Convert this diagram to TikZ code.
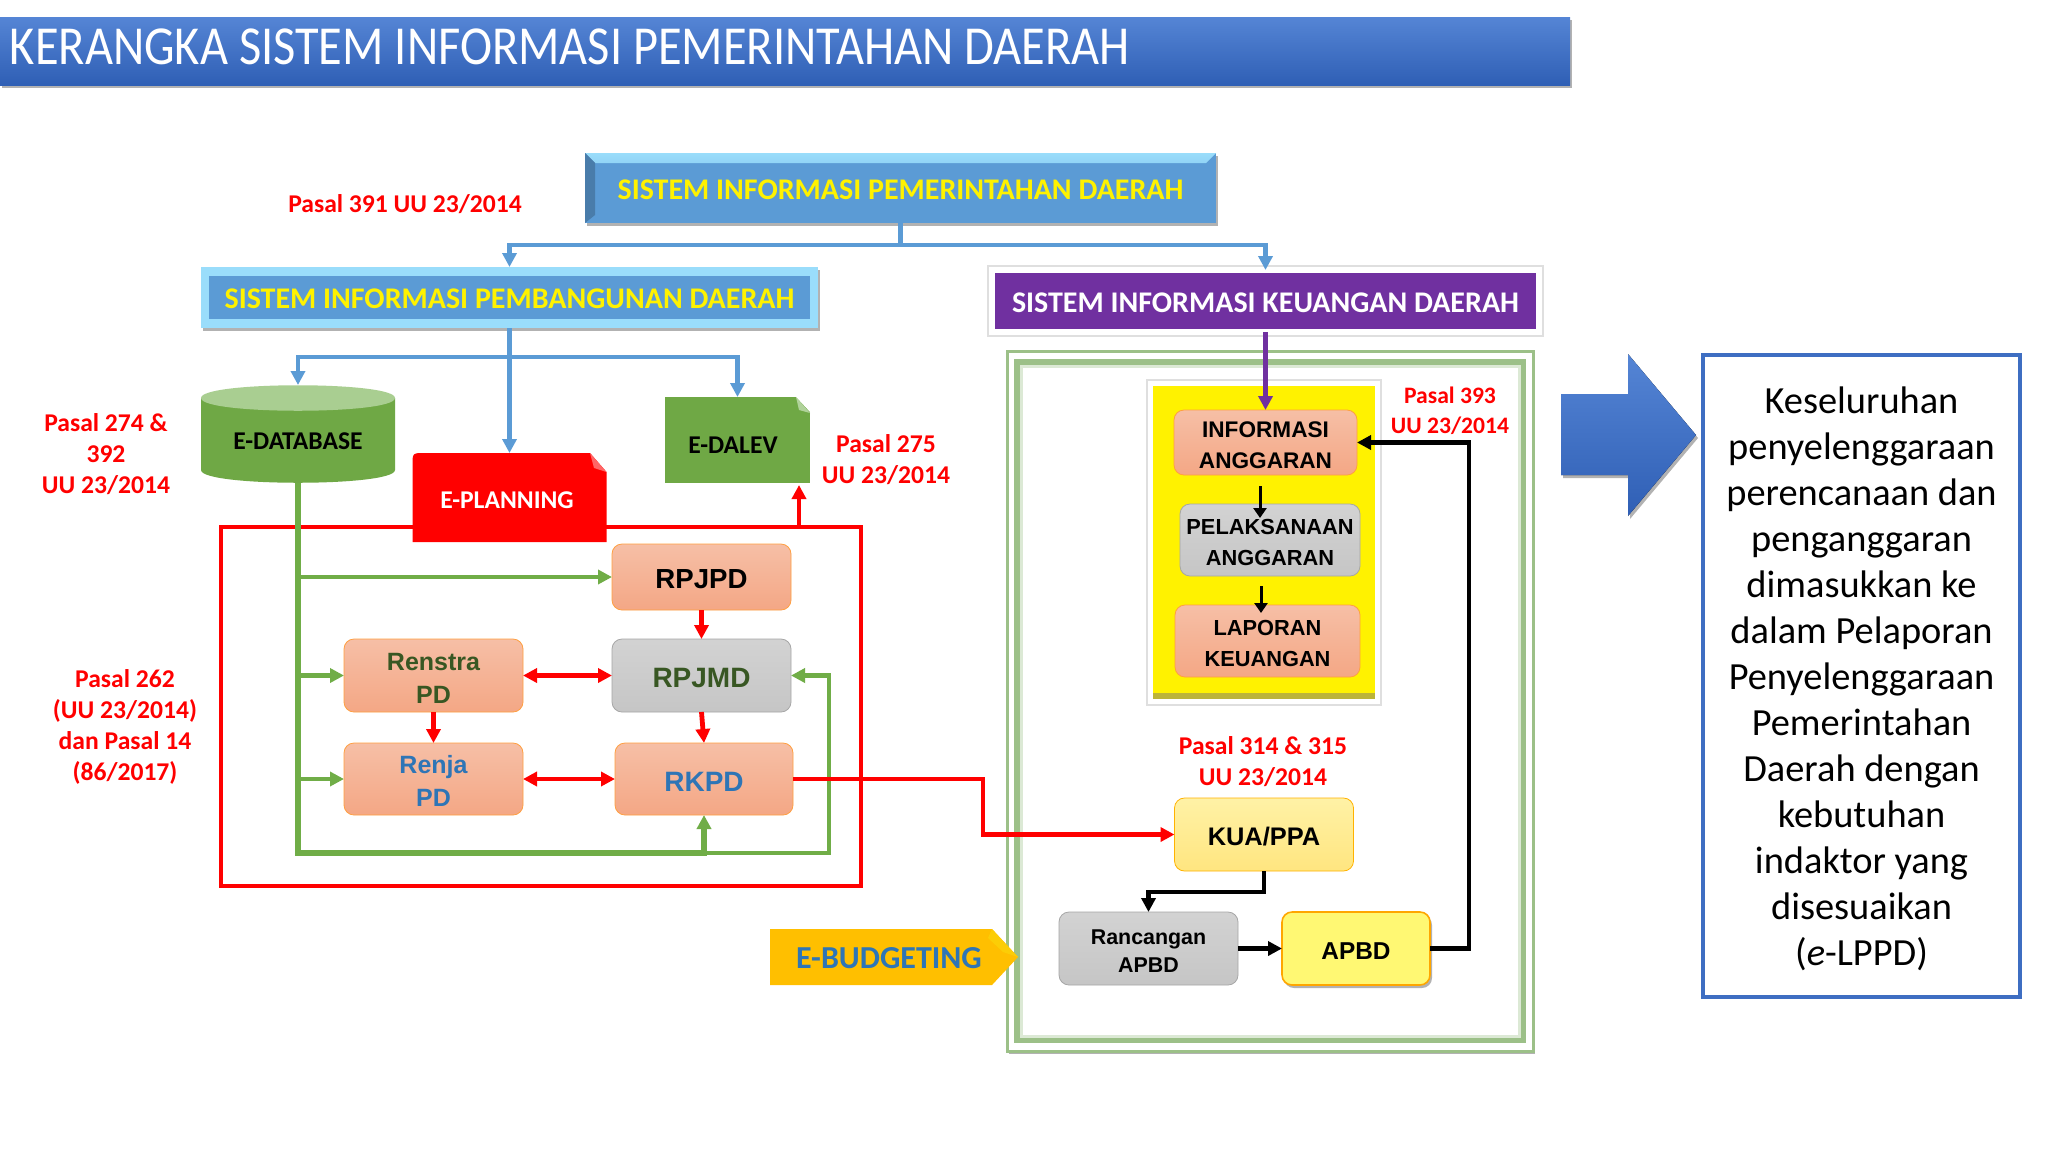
\documentclass[tikz,border=0pt]{standalone}
\usepackage{fontspec}
\setmainfont{Carlito}
\newfontfamily\arialf{Liberation Sans}
\usetikzlibrary{arrows.meta,shadows}
\definecolor{redlab}{HTML}{FF0000}
\definecolor{bluebox}{HTML}{5B9BD5}
\definecolor{bluelite}{HTML}{9ADDFB}
\definecolor{greenline}{HTML}{70AD47}
\definecolor{greendoc}{HTML}{6FA845}
\definecolor{purplebox}{HTML}{7030A0}
\definecolor{darkgreen}{HTML}{385723}
\definecolor{bluetext}{HTML}{2E75B6}
\definecolor{framegreen}{HTML}{9CC088}
\definecolor{royaltop}{HTML}{5585D5}
\definecolor{royalbot}{HTML}{2F5FB5}
\definecolor{salmontop}{HTML}{F6BFA6}
\definecolor{salmonbot}{HTML}{F4A785}
\newcommand{\lift}{\rule{0pt}{\dimexpr\fontcharht\font`d+2.6pt\relax}}
\tikzset{
every node/.style={inner sep=0pt,outer sep=0pt,align=center},
lowtext/.style={execute at begin node={\rule{0pt}{\dimexpr\fontcharht\font`d+#1\relax}}},
lowtext/.default=2.4pt,
softshadow/.style={drop shadow={shadow xshift=1pt,shadow yshift=-1.5pt,fill=black,opacity=0.3}},
lawlabel/.style={text=redlab,font=\fontsize{12.8}{15.5}\selectfont\bfseries},
orangebox/.style={draw=orange!75!white,rounded corners=5pt,top color=salmontop,bottom color=salmonbot},
greybox/.style={draw=gray!70,rounded corners=5pt,top color=gray!35,bottom color=gray!45},
bluearrow/.style={draw=bluebox,line width=2.3pt,-{Triangle[length=7pt,width=7pt]}},
greenarrow/.style={draw=greenline,line width=2.4pt,-{Triangle[length=7pt,width=7pt]}},
redarrow/.style={draw=red,line width=2.4pt,-{Triangle[length=7pt,width=7pt]}},
twoarrow/.style={draw=red,line width=2.4pt,{Triangle[length=7pt,width=7pt]}-{Triangle[length=7pt,width=7pt]}},
blackarrow/.style={draw=black,line width=2.4pt,-{Triangle[length=7pt,width=7pt]}},
thinarrow/.style={draw=black,line width=1.5pt,-{Triangle[length=5pt,width=6.5pt]}},
}
\begin{document}
\begin{tikzpicture}[x=0.5pt,y=-0.5pt]
\useasboundingbox (0,0) rectangle (2048,1152);
\fill[white] (0,0) rectangle (2048,1152);
%%% Title bar
\draw (785,51) node[minimum width=785pt,minimum height=34pt,top color=royaltop,bottom color=royalbot,softshadow](titlebar){};
\draw (10,47) node[anchor=west,text=white,font=\fontsize{27.5}{30}\selectfont](titletext){\scalebox{0.88}[1]{KERANGKA SISTEM INFORMASI PEMERINTAHAN DAERAH}};
%%% Upper boxes
\draw
(900.5,188) node[lowtext=1pt,minimum width=315.5pt,minimum height=35pt,fill=bluebox,softshadow,text=yellow,font=\fontsize{15}{16}\selectfont\bfseries,
path picture={
\fill[top color=bluelite,bottom color=bluebox] (path picture bounding box.north west)--(path picture bounding box.north east)--++(-5pt,-5pt)--([shift={(5pt,-5pt)}]path picture bounding box.north west)--cycle;
\fill[black!20!bluebox] (path picture bounding box.north west)--++(5pt,-5pt)--([shift={(5pt,4pt)}]path picture bounding box.south west)--(path picture bounding box.south west)--cycle;
}](mainbox){SISTEM INFORMASI PEMERINTAHAN DAERAH}
(509.5,297.5) node[lowtext=1pt,minimum width=308.5pt,minimum height=30.5pt,fill=bluelite,softshadow,text=yellow,font=\fontsize{15}{16}\selectfont\bfseries,
path picture={
\fill[bluebox] ([shift={(4pt,-4.5pt)}]path picture bounding box.north west) rectangle ([shift={(-4pt,4.5pt)}]path picture bounding box.south east);
}](pdbox){SISTEM INFORMASI PEMBANGUNAN DAERAH}
(1265.5,301) node[lowtext=1.2pt,minimum width=273.5pt,minimum height=31pt,fill=purplebox,preaction={draw=gray!25,line width=5pt},draw=white,line width=3pt,text=white,font=\fontsize{15}{16}\selectfont\bfseries](keubox){SISTEM INFORMASI KEUANGAN DAERAH}
;
%%% Red frame and the three documents
\draw (541,706.5) node[draw=red,line width=2.4pt,minimum width=320pt,minimum height=179.5pt](redframe){};
\fill[greendoc] (201,398)--(201,470) .. controls (201,487) and (395,487) .. (395,470)--(395,398)--cycle;
\fill[greenline!60!white] (201,398) .. controls (201,381) and (395,381) .. (395,398) .. controls (395,415) and (201,415) .. (201,398)--cycle;
\draw (298,434) node[minimum width=97pt,minimum height=49pt](dbase){};
\draw (298,441) node[font=\fontsize{12.8}{14}\selectfont\bfseries](dbasetext){E-DATABASE};
\draw (737.5,440) node[minimum width=72.5pt,minimum height=43pt,fill=greendoc](dalev){};
\draw (733,445) node[font=\fontsize{12.8}{14}\selectfont\bfseries](dalevtext){E-DALEV};
\fill[white] (796,397)--(811,397)--(811,413)--cycle;
\fill[greenline!55!white] (796,397)--(810,413)--(799,410)--cycle;
\fill[red] (412.5,542)--(412.5,465) .. controls (412.5,453) .. (424.5,453)--(590,453)--(606.5,472)--(606.5,542)--cycle;
\fill[red!60!white] (590,453)--(606.5,472)--(594,468)--cycle;
\draw (509.5,497.5) node[minimum width=97pt,minimum height=44.5pt](eplan){};
\draw (507,500) node[text=white,font=\fontsize{12.8}{14}\selectfont\bfseries](eplantext){E-PLANNING};
%%% Planning boxes
\draw
(701.5,577) node[orangebox,lowtext,minimum width=89.5pt,minimum height=33pt,font=\fontsize{13.8}{16}\selectfont\arialf\bfseries](rpjpd){RPJPD}
(701.5,675.5) node[greybox,lowtext,minimum width=89.5pt,minimum height=36.5pt,text=darkgreen,font=\fontsize{14}{16}\selectfont\arialf\bfseries](rpjmd){RPJMD}
(433.5,675.5) node[orangebox,minimum width=89.5pt,minimum height=36.5pt,text=darkgreen,font=\fontsize{12.5}{16.5}\selectfont\arialf\bfseries](renstra){\lift Renstra\\PD}
(433.5,779) node[orangebox,minimum width=89.5pt,minimum height=36pt,text=bluetext,font=\fontsize{12.5}{16.5}\selectfont\arialf\bfseries](renja){\lift Renja\\PD}
(704,779) node[orangebox,lowtext,minimum width=89pt,minimum height=36pt,text=bluetext,font=\fontsize{14}{16}\selectfont\arialf\bfseries](rkpd){RKPD}
;
%%% Finance frame
\draw (1270,701) node[draw=framegreen,line width=1.5pt,fill=white,minimum width=263pt,minimum height=350pt,softshadow](frameout){};
\draw (1270,701) node[draw=framegreen,line width=3pt,fill=white,minimum width=253pt,minimum height=339pt](framein){};
\draw (1270,701) node[draw=framegreen!35,line width=1.5pt,minimum width=249pt,minimum height=335pt](frameglow){};
\draw (1264,542.5) node[fill=yellow,preaction={draw=gray!25,line width=4.5pt},draw=white,line width=2.5pt,minimum width=113.5pt,minimum height=159pt,
path picture={
\fill[yellow!70!black] ([yshift=4.5pt]path picture bounding box.south west) rectangle (path picture bounding box.south east);
}](yellowbox){};
\draw
(1265.5,442.5) node[orangebox,minimum width=91.5pt,minimum height=32.5pt,font=\fontsize{11.3}{15.5}\selectfont\arialf\bfseries](info){\lift INFORMASI\\ANGGARAN}
(1270,540) node[greybox,minimum width=90pt,minimum height=36pt,font=\fontsize{10.9}{15.5}\selectfont\arialf\bfseries](pelak){\lift PELAKSANAAN\\ANGGARAN}
(1267.5,641) node[orangebox,minimum width=92.5pt,minimum height=36pt,font=\fontsize{10.9}{15.5}\selectfont\arialf\bfseries](lapor){\lift LAPORAN\\KEUANGAN}
(1264,834.5) node[lowtext,draw=orange!60!yellow,rounded corners=5pt,top color=orange!30!yellow!35!white,bottom color=orange!40!yellow!50!white,minimum width=89.5pt,minimum height=36.5pt,font=\fontsize{12.7}{16}\selectfont\arialf\bfseries](kua){KUA/PPA}
(1148.5,948.5) node[greybox,minimum width=89.5pt,minimum height=36.5pt,font=\fontsize{10.7}{14}\selectfont\arialf\bfseries](ranc){\lift Rancangan\\APBD}
(1356,948.5) node[lowtext,draw=orange!70!yellow,line width=0.8pt,rounded corners=5pt,fill=yellow!55!white,softshadow,minimum width=74pt,minimum height=36.5pt,font=\fontsize{12.2}{16}\selectfont\arialf\bfseries](apbd){APBD}
;
\fill[orange!50!yellow] (770,929)--(992,929)--(1018,957)--(992,985)--(770,985)--cycle;
\fill[yellow!65!orange] (992,929)--(1018,957)--(1003,952)--(988,938)--cycle;
\draw (889,958) node[text=bluetext,font=\fontsize{16}{18}\selectfont\bfseries](ebud){E-BUDGETING};
%%% Bends of the connectors
\coordinate (topbus) at (900.5,245);
\coordinate (pdbus) at (509.5,357);
\coordinate (gcorner) at (298,853);
\coordinate (gbase) at (704,853);
\coordinate (gright) at (829,853);
\coordinate (redbend) at (983,779);
\coordinate (dalevin) at (799,485);
\coordinate (kbend) at (1264,892);
\coordinate (bback) at (1469,948.5);
%%% Blue arrows
\draw[bluearrow] (mainbox.south)--(topbus)-|(pdbox.north);
\draw[bluearrow] (topbus)-|(keubox.north);
\draw[bluearrow] (pdbox.south)--(eplan.north);
\draw[bluearrow] (pdbus)-|(dbase.north);
\draw[bluearrow] (pdbus)-|(dalev.north);
%%% Green arrows
\draw[greenarrow,line width=2.8pt] (dbase.south)--(gcorner)--(gbase)--(rkpd.south);
\draw[greenarrow,line width=2.2pt] (gbase)--(gright)|-(rpjmd.east);
\foreach \x in {rpjpd,renstra,renja}{
\draw[greenarrow] (\x.west-|dbase.south)--(\x.west);
}
%%% Red arrows
\foreach \x/\y in {rpjpd/rpjmd,rpjmd/rkpd,renstra/renja}{
\draw[redarrow] (\x.south)--(\y.north);
}
\foreach \x/\y in {renstra/rpjmd,renja/rkpd}{
\draw[twoarrow] (\x.east)--(\y.west);
}
\draw[redarrow] (redframe.north-|dalevin)--(dalevin);
\draw[redarrow] (rkpd.east)--(redbend)|-(kua.west);
%%% Black arrows
\draw[blackarrow,draw=purplebox] (keubox.south)--(info.north);
\draw[thinarrow] ([shift={(-2.75pt,-5.5pt)}]info.south)--([shift={(-5pt,-7pt)}]pelak.north);
\draw[thinarrow] ([shift={(-4.5pt,-5pt)}]pelak.south)--([shift={(-3.25pt,-4pt)}]lapor.north);
\draw[blackarrow] (kua.south)--(kbend)-|(ranc.north);
\draw[blackarrow] (ranc.east)--(apbd.west);
\draw[blackarrow] (apbd.east)--(bback)|-(info.east);
%%% Law labels
\draw
(405,204) node[lawlabel](lawa){Pasal 391 UU 23/2014}
(106,454.5) node[lawlabel](lawb){Pasal 274 \&\\392\\UU 23/2014}
(886,459.5) node[lawlabel](lawc){Pasal 275\\UU 23/2014}
(125,726.5) node[lawlabel](lawd){Pasal 262\\(UU 23/2014)\\dan Pasal 14\\(86/2017)}
(1450,411) node[lawlabel,font=\fontsize{11.8}{15}\selectfont\bfseries](lawe){Pasal 393\\UU 23/2014}
(1263,761.5) node[lawlabel](lawf){Pasal 314 \& 315\\UU 23/2014}
;
%%% Right side
\fill[top color=royaltop,bottom color=royalbot,softshadow] (1561,394)--(1628,394)--(1628,354)--(1696,435)--(1628,516)--(1628,475)--(1561,475)--cycle;
\draw (1861.5,678.5) node[font=\fontsize{19.2}{23}\selectfont](lppdtext){Keseluruhan\\penyelenggaraan\\perencanaan dan\\penganggaran\\dimasukkan ke\\dalam Pelaporan\\Penyelenggaraan\\Pemerintahan\\Daerah dengan\\kebutuhan\\indaktor yang\\disesuaikan\\(\textit{e}-LPPD)};
\draw (1861.5,676) node[draw=royalbot!60!royaltop,line width=2pt,minimum width=158.5pt,minimum height=321pt](lppd){};
\end{tikzpicture}
\end{document}
